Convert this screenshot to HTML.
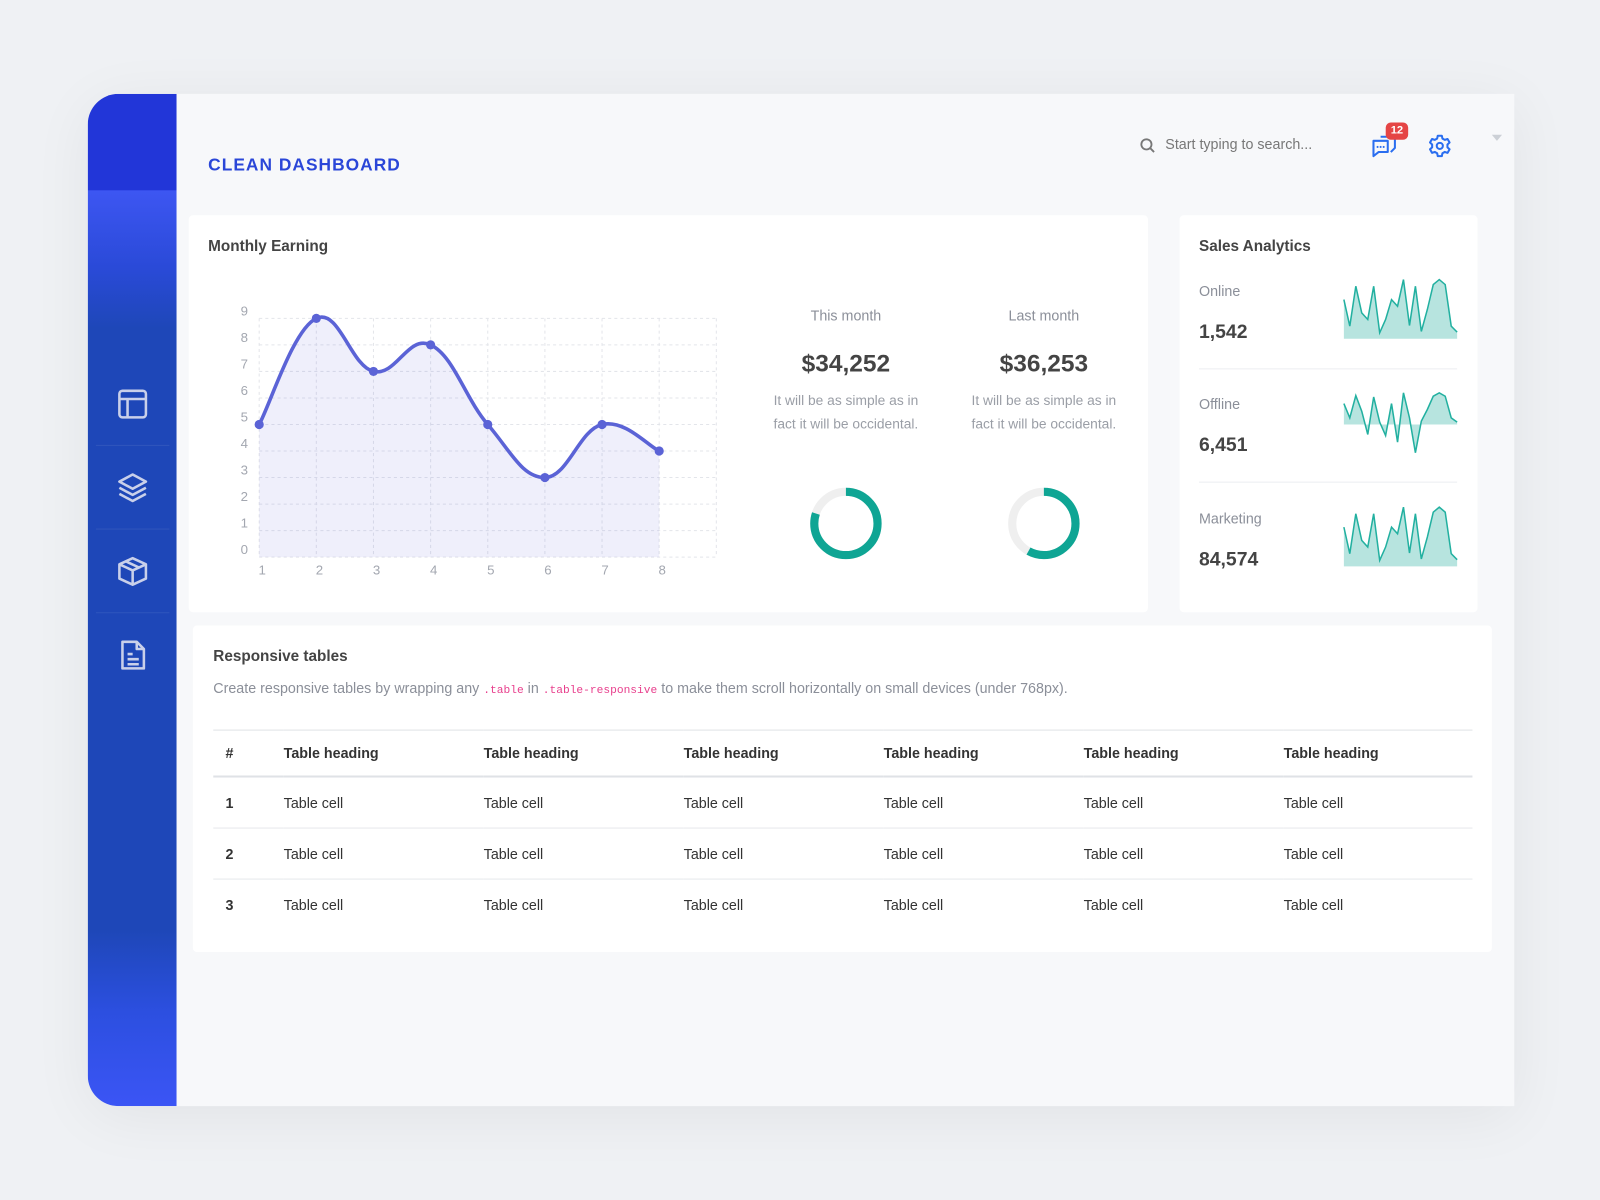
<!DOCTYPE html>
<html><head><meta charset="utf-8">
<style>
html,body{margin:0;padding:0;width:1600px;height:1200px;overflow:hidden;background:#eef0f3;font-family:"Liberation Sans",sans-serif;}
#wrap{position:absolute;left:0;top:0;width:1568px;height:1176px;transform:scale(1.020408);transform-origin:0 0;background:#eff1f4;}
.abs{position:absolute;}
#page{left:86px;top:92px;width:1398px;height:992px;background:#f7f8fa;border-radius:30px 0 0 30px;box-shadow:0 10px 60px rgba(0,0,0,0.06);overflow:hidden;}
#sidebar{left:0;top:0;width:87px;height:992px;background:linear-gradient(#2236d8 0,#2236d8 94px,#3d56f2 95px,#2a4ad8 170px,#1e47b8 230px,#1e47b8 820px,#2c4fe0 900px,#3b55f5 992px);}
.side-icon{position:absolute;left:28px;width:32px;height:32px;}
.side-div{position:absolute;left:8px;width:72px;height:1px;background:rgba(255,255,255,0.08);}
.card{position:absolute;background:#fff;border-radius:4px;}
.h{font-size:15px;color:#444;font-weight:bold;}
.grey{color:#8b8f99;}
table{border-collapse:collapse;position:absolute;left:20px;top:102px;width:1234px;font-size:14px;color:#333;table-layout:fixed;}
th{font-weight:bold;text-align:left;height:44px;padding:0;border-top:1px solid #dfe2e6;border-bottom:2px solid #dfe2e6;}
td{height:49px;padding:0;border-bottom:1px solid #e6e8eb;}
tr:last-child td{border-bottom:none;}
code{font-family:"Liberation Mono",monospace;font-size:11px;color:#e83e8c;}
.desc{font-size:13.5px;color:#9a9ea6;line-height:23px;margin-top:10px;white-space:nowrap;}
</style></head><body>
<div id="wrap">
<div id="page" class="abs">
  <div id="sidebar" class="abs">
    <svg class="side-icon" style="top:288px" viewBox="0 0 32 32"><rect x="3" y="3" width="26" height="26" rx="3" fill="none" stroke="#c9d0ea" stroke-width="2.5"/><line x1="3" y1="11" x2="29" y2="11" stroke="#c9d0ea" stroke-width="2.5"/><line x1="11" y1="11" x2="11" y2="29" stroke="#c9d0ea" stroke-width="2.5"/></svg>
    <div class="side-div" style="top:344px"></div>
    <svg class="side-icon" style="top:370px" viewBox="0 0 32 32"><path d="M16 3 L29 10 L16 17 L3 10 Z M3 16 L16 23 L29 16 M3 22 L16 29 L29 22" fill="none" stroke="#c9d0ea" stroke-width="2.5" stroke-linejoin="round"/></svg>
    <div class="side-div" style="top:426px"></div>
    <svg class="side-icon" style="top:452px" viewBox="0 0 32 32"><path d="M16 3 L29 9 L29 23 L16 29 L3 23 L3 9 Z M3 9 L16 15 L29 9 M16 15 L16 29 M9 6 L22 12" fill="none" stroke="#c9d0ea" stroke-width="2.5" stroke-linejoin="round"/></svg>
    <div class="side-div" style="top:508px"></div>
    <svg class="side-icon" style="top:534px" viewBox="0 0 32 32"><path d="M6 3 L20 3 L27 10 L27 29 L6 29 Z M20 3 L20 10 L27 10 M11 15 L16 15 M11 20 L22 20 M11 25 L22 25" fill="none" stroke="#c9d0ea" stroke-width="2.5" stroke-linejoin="round"/></svg>
  </div>
</div>

<div class="abs" style="left:204px;top:152px;font-size:17px;font-weight:bold;color:#2a46d8;letter-spacing:1px;">CLEAN DASHBOARD</div>

<div class="abs" style="left:1110px;top:126px;width:200px;height:32px;">
  <svg class="abs" style="left:7px;top:9px" width="16" height="16" viewBox="0 0 16 16"><circle cx="6.5" cy="6.5" r="5" fill="none" stroke="#777" stroke-width="1.8"/><line x1="10" y1="10" x2="14" y2="14" stroke="#777" stroke-width="1.8"/></svg>
  <div class="abs" style="left:32px;top:7px;font-size:14px;color:#777;white-space:nowrap;">Start typing to search...</div>
</div>
<svg class="abs" style="left:1343px;top:130px" width="28" height="26" viewBox="0 0 28 26"><path d="M3 8 h14 v11 h-9 l-5 4 z" fill="none" stroke="#2a6ef0" stroke-width="2" stroke-linejoin="round"/><path d="M10 4 h14 v11 l-4 4" fill="none" stroke="#2a6ef0" stroke-width="2" stroke-linejoin="round"/><circle cx="7" cy="14" r="1" fill="#2a6ef0"/><circle cx="10" cy="14" r="1" fill="#2a6ef0"/><circle cx="13" cy="14" r="1" fill="#2a6ef0"/></svg>
<div class="abs" style="left:1358px;top:120px;width:22px;height:17px;background:#e54545;border-radius:5px;color:#fff;font-size:11px;font-weight:bold;text-align:center;line-height:17px;">12</div>
<svg class="abs" style="left:1399px;top:131px" width="24" height="24" viewBox="0 0 24 24"><path d="M10 2h4l.6 2.8 2.3 1.3 2.7-.9 2 3.5-2.1 1.9v2.8l2.1 1.9-2 3.5-2.7-.9-2.3 1.3L14 22h-4l-.6-2.8-2.3-1.3-2.7.9-2-3.5 2.1-1.9v-2.8L2.4 8.7l2-3.5 2.7.9 2.3-1.3z" fill="none" stroke="#2a6ef0" stroke-width="2" stroke-linejoin="round"/><circle cx="12" cy="12" r="3" fill="none" stroke="#2a6ef0" stroke-width="2"/></svg>
<div class="abs" style="left:1462px;top:132px;width:0;height:0;border-left:5px solid transparent;border-right:5px solid transparent;border-top:6px solid #ccd0d6;"></div>

<div class="card" style="left:185px;top:211px;width:940px;height:389px;">
  <div class="abs h" style="left:19px;top:22px;">Monthly Earning</div>
  <svg id="chart" class="abs" style="left:0;top:0" width="560" height="389"></svg>
  <div class="abs" style="left:554px;top:90px;width:180px;text-align:center;">
    <div class="grey" style="font-size:14px;">This month</div>
    <div style="font-size:24px;font-weight:bold;color:#444;margin-top:26px;">$34,252</div>
    <div class="desc">It will be as simple as in<br>fact it will be occidental.</div>
  </div>
  <div class="abs" style="left:748px;top:90px;width:180px;text-align:center;">
    <div class="grey" style="font-size:14px;">Last month</div>
    <div style="font-size:24px;font-weight:bold;color:#444;margin-top:26px;">$36,253</div>
    <div class="desc">It will be as simple as in<br>fact it will be occidental.</div>
  </div>
  <svg id="donuts" class="abs" style="left:0;top:0;pointer-events:none" width="940" height="389"></svg>
</div>

<div class="card" style="left:1156px;top:211px;width:292px;height:389px;">
  <div class="abs h" style="left:19px;top:22px;">Sales Analytics</div>
  <div class="abs grey" style="left:19px;top:66px;font-size:14px;">Online</div>
  <div class="abs" style="left:19px;top:104px;font-size:19px;font-weight:bold;color:#444;">1,542</div>
  <div class="abs" style="left:19px;top:150px;width:253px;height:1px;background:#eceef1;"></div>
  <div class="abs grey" style="left:19px;top:177px;font-size:14px;">Offline</div>
  <div class="abs" style="left:19px;top:215px;font-size:19px;font-weight:bold;color:#444;">6,451</div>
  <div class="abs" style="left:19px;top:261px;width:253px;height:1px;background:#eceef1;"></div>
  <div class="abs grey" style="left:19px;top:289px;font-size:14px;">Marketing</div>
  <div class="abs" style="left:19px;top:327px;font-size:19px;font-weight:bold;color:#444;">84,574</div>
  <svg id="sparks" class="abs" style="left:0;top:0" width="292" height="389"></svg>
</div>

<div class="card" style="left:189px;top:613px;width:1273px;height:320px;">
  <div class="abs h" style="left:20px;top:22px;">Responsive tables</div>
  <div class="abs" style="left:20px;top:53px;font-size:14px;color:#8b8f99;white-space:nowrap;">Create responsive tables by wrapping any <code>.table</code> in <code>.table-responsive</code> to make them scroll horizontally on small devices (under 768px).</div>
  <table>
    <colgroup><col style="width:69px"><col style="width:196px"><col style="width:196px"><col style="width:196px"><col style="width:196px"><col style="width:196px"><col></colgroup>
    <tr><th style="padding-left:12px">#</th><th>Table heading</th><th>Table heading</th><th>Table heading</th><th>Table heading</th><th>Table heading</th><th>Table heading</th></tr>
    <tr><td style="padding-left:12px;font-weight:bold">1</td><td>Table cell</td><td>Table cell</td><td>Table cell</td><td>Table cell</td><td>Table cell</td><td>Table cell</td></tr>
    <tr><td style="padding-left:12px;font-weight:bold">2</td><td>Table cell</td><td>Table cell</td><td>Table cell</td><td>Table cell</td><td>Table cell</td><td>Table cell</td></tr>
    <tr><td style="padding-left:12px;font-weight:bold">3</td><td>Table cell</td><td>Table cell</td><td>Table cell</td><td>Table cell</td><td>Table cell</td><td>Table cell</td></tr>
  </table>
</div>
</div>
<script>
const months = [1,2,3,4,5,6,7,8];
const earnings = [5,9,7,8,5,3,5,4];
const yTicks = [0,1,2,3,4,5,6,7,8,9];
const donutLabels = ["This month","Last month"];
const donutValues = [0.8,0.58];
const onlineSeries = [118,38,158,78,58,158,18,58,118,98,178,40,158,22,88,163,178,163,38,20];
const offlineSeries = [63,20,87,40,-30,83,7,-33,63,-53,95,20,-85,10,45,85,95,85,20,7];
const marketingSeries = [118,38,158,78,58,158,18,58,118,98,178,40,158,22,88,163,178,163,38,20];

const NS='http://www.w3.org/2000/svg';
function mk(parent,tag,attrs){const e=document.createElementNS(NS,tag);for(const k in attrs)e.setAttribute(k,attrs[k]);parent.appendChild(e);return e;}

const chart=document.getElementById('chart');
const X0=69,DX=56,Y0=335,DY=26;
const xS=v=>X0+(v-1)*DX, yS=v=>Y0-v*DY;
for(const t of yTicks){
  const l=mk(chart,'line',{x1:X0,x2:X0+8*DX,y1:yS(t),y2:yS(t),stroke:'#e3e5ea','stroke-dasharray':'3,3'});
  
  
  const tx=mk(chart,'text',{x:X0-11,y:yS(t)-3,'text-anchor':'end','font-size':13,fill:'#a3a7b0'});
  tx.textContent=t;
  
  
}
for(let i=0;i<=8;i++){
  const l=mk(chart,'line',{x1:X0+i*DX,x2:X0+i*DX,y1:yS(9),y2:Y0,stroke:'#e3e5ea','stroke-dasharray':'3,3'});
  
  
}
months.forEach(m=>{
  const tx=mk(chart,'text',{x:xS(m)+3,y:Y0+17,'text-anchor':'middle','font-size':13,fill:'#a3a7b0'});
  tx.textContent=m;
  
  
});
const pts=months.map((m,i)=>[xS(m),yS(earnings[i])]);
let d='M'+pts[0][0]+','+pts[0][1];
const tn=0.2;
for(let i=0;i<pts.length-1;i++){
  const p0=pts[Math.max(0,i-1)],p1=pts[i],p2=pts[i+1],p3=pts[Math.min(pts.length-1,i+2)];
  const c1=[p1[0]+(p2[0]-p0[0])*tn,p1[1]+(p2[1]-p0[1])*tn];
  const c2=[p2[0]-(p3[0]-p1[0])*tn,p2[1]-(p3[1]-p1[1])*tn];
  d+=' C'+c1[0]+','+c1[1]+' '+c2[0]+','+c2[1]+' '+p2[0]+','+p2[1];
}
const area=mk(chart,'path',{d:d+' L'+pts[pts.length-1][0]+','+Y0+' L'+pts[0][0]+','+Y0+' Z',fill:'rgba(94,100,214,0.1)'});


const line=mk(chart,'path',{d:d,fill:'none',stroke:'#5b63d6','stroke-width':3.5});


pts.forEach(p=>{
  const c=mk(chart,'circle',{cx:p[0],cy:p[1],r:4.5,fill:'#5b63d6'});
  
  
});

const dn=document.getElementById('donuts');
const centers=[644,838];
donutValues.forEach((v,i)=>{
  const cx=centers[i],cy=302,r=31;
  const bg=mk(dn,'circle',{cx:cx,cy:cy,r:r,fill:'none',stroke:'#efefef','stroke-width':8});
  
  
  const C=2*Math.PI*r;
  const arc=mk(dn,'circle',{cx:cx,cy:cy,r:r,fill:'none',stroke:'#0fa594','stroke-width':8,'stroke-dasharray':(C*v)+' '+C,transform:'rotate(-90 '+cx+' '+cy+')'});
  
  
});

const sp=document.getElementById('sparks');
function spark(series,base,name){
  const x0=161,w=111,k=58/178;
  const step=w/(series.length-1);
  const p=series.map((v,i)=>[x0+i*step,base-v*k]);
  const ln=p.map((q,i)=>(i?'L':'M')+q[0].toFixed(1)+','+q[1].toFixed(1)).join(' ');
  const a=mk(sp,'path',{d:ln+' L'+(x0+w)+','+base+' L'+x0+','+base+' Z',fill:'rgba(16,165,148,0.3)'});
  
  
  const l=mk(sp,'path',{d:ln,fill:'none',stroke:'#22b0a0','stroke-width':1.5});
  
  
}
spark(onlineSeries,121,'online');
spark(offlineSeries,205,'offline');
spark(marketingSeries,344,'marketing');
</script>
</body></html>
